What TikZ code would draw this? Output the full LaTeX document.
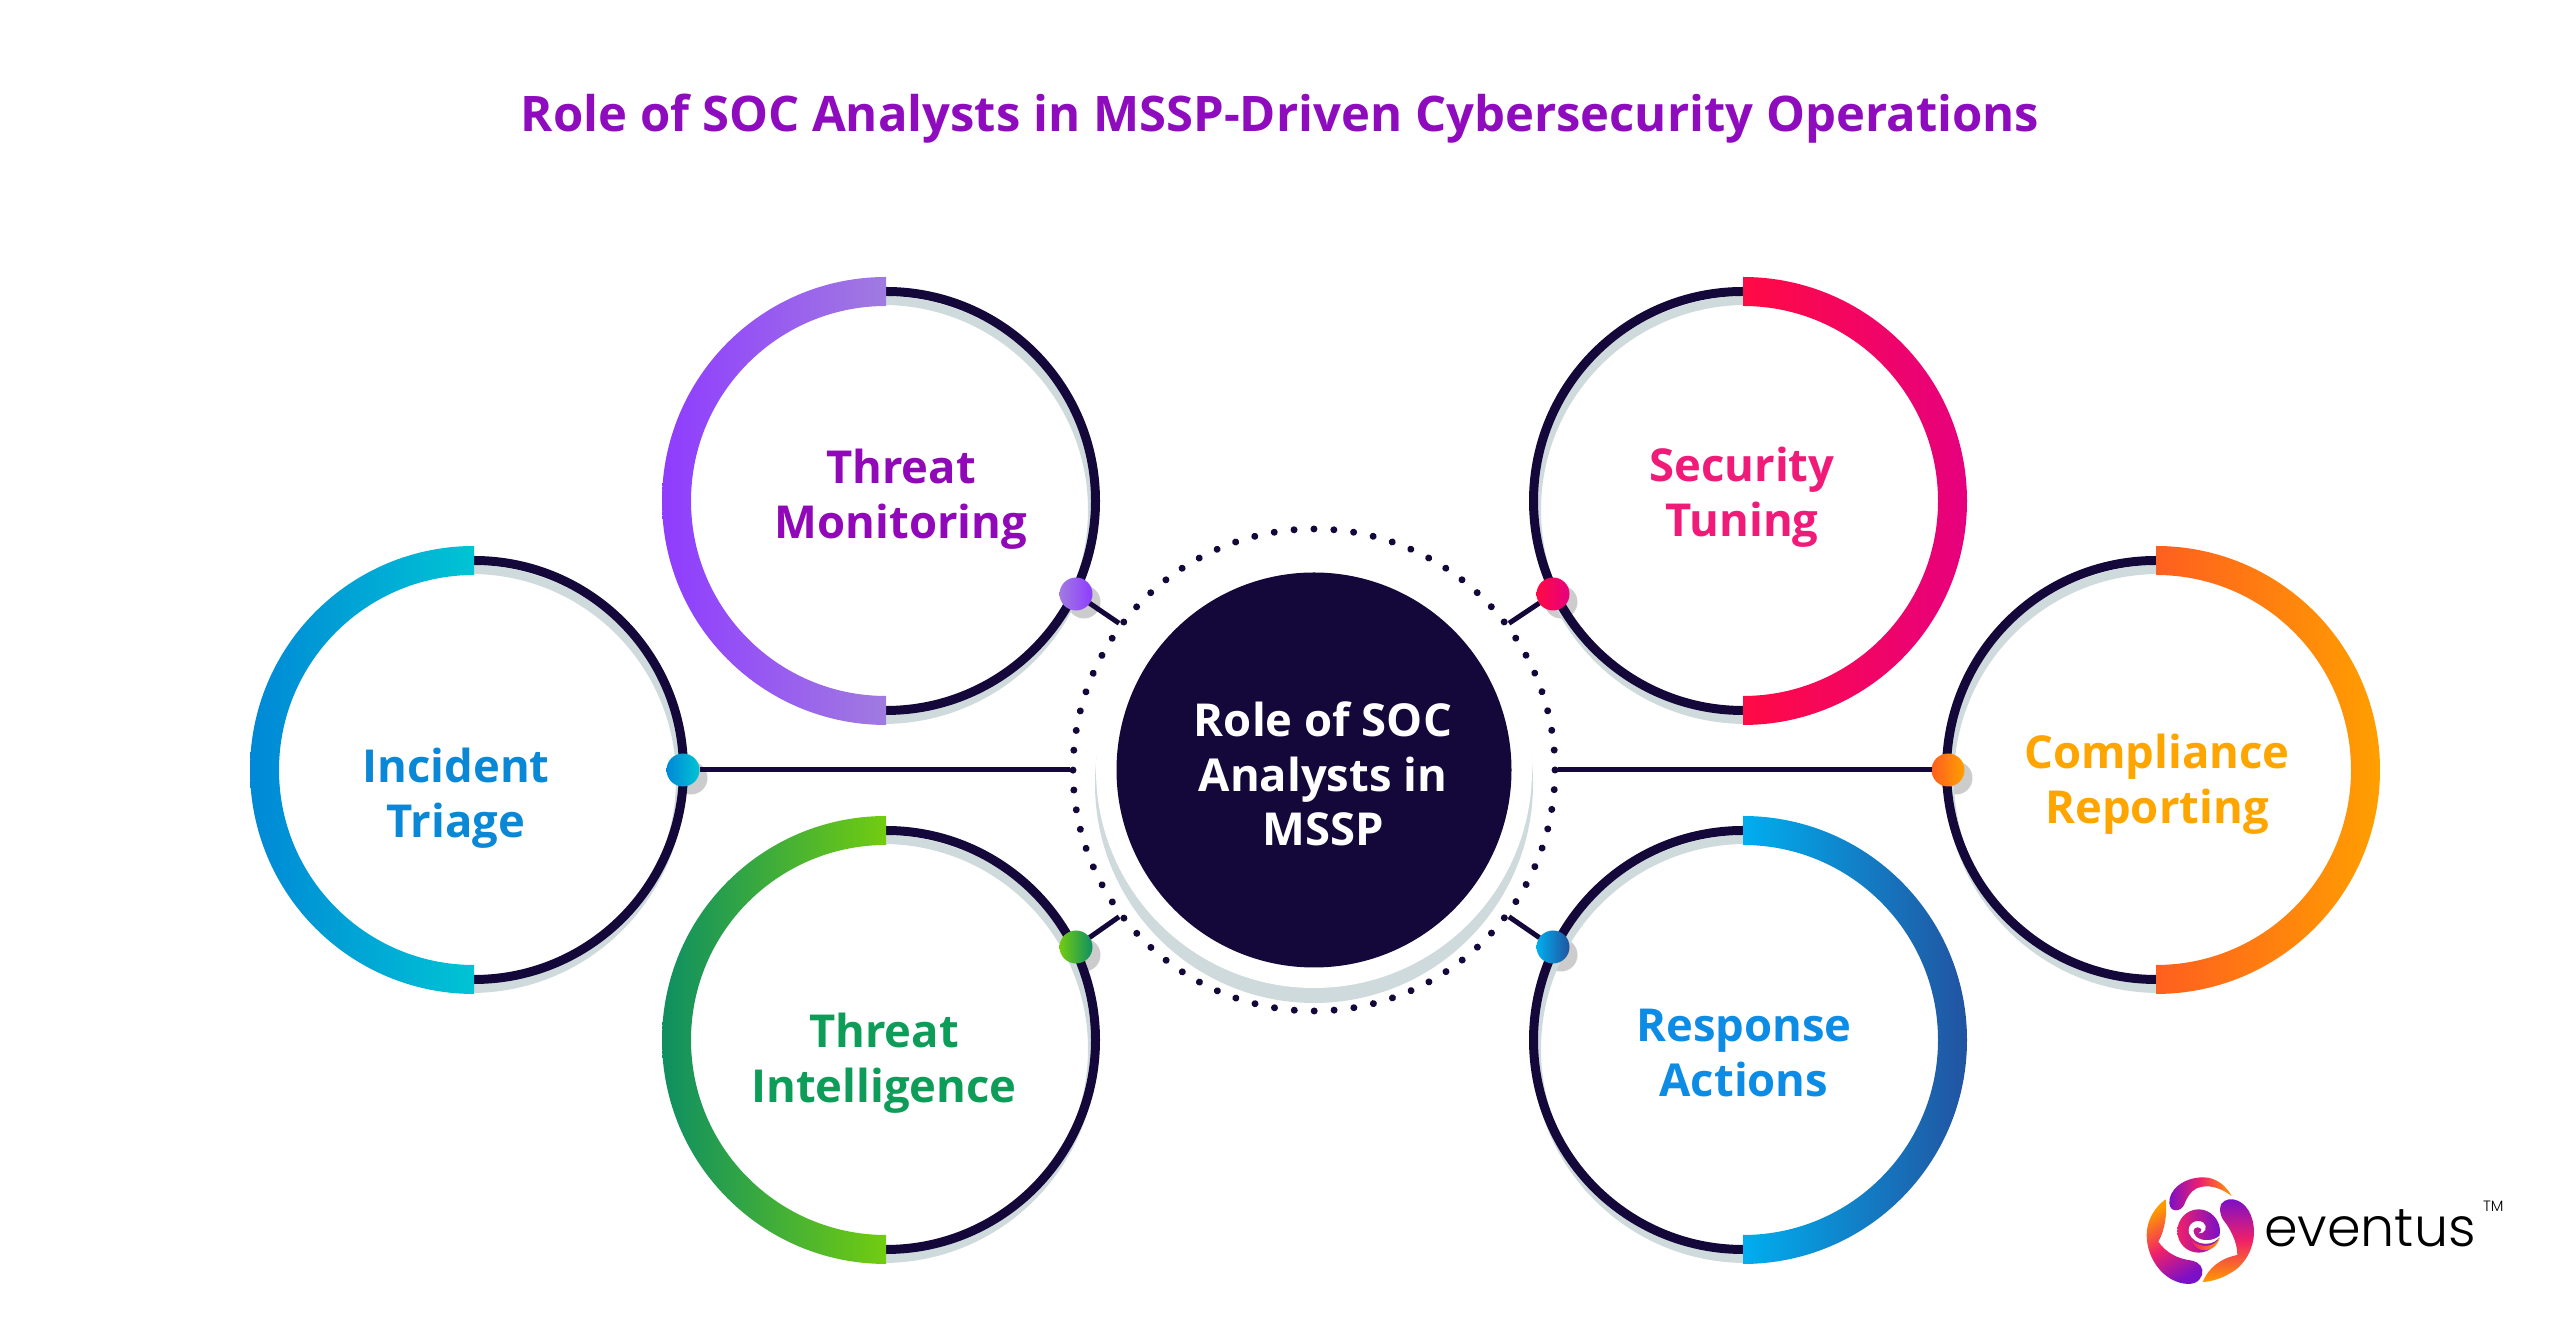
\documentclass[tikz,border=0pt]{standalone}
\usepackage{fontspec}
\setmainfont{Open Sans}
\newfontfamily\logofont{Poppins Light}
\usetikzlibrary{positioning}

\definecolor{hubdark}{HTML}{14083A}
\definecolor{shadegray}{HTML}{CFDADD}
\definecolor{dotgray}{HTML}{CCCCCC}
\definecolor{logopurple}{HTML}{7A10C8}
\definecolor{logopink}{HTML}{F0206A}
\definecolor{logoorange}{HTML}{FF9A00}
\definecolor{monA}{HTML}{8F3CFF}
\definecolor{monB}{HTML}{A07BE0}
\definecolor{secA}{HTML}{FF0A45}
\definecolor{secB}{HTML}{E6007E}
\definecolor{incA}{HTML}{0088D6}
\definecolor{incB}{HTML}{00C4D4}
\definecolor{comA}{HTML}{FF5F1F}
\definecolor{comB}{HTML}{FF9F00}
\definecolor{intA}{HTML}{0E8F62}
\definecolor{intB}{HTML}{72CC10}
\definecolor{resA}{HTML}{00AEEF}
\definecolor{resB}{HTML}{2253A0}
\definecolor{textmain}{HTML}{8E0CBE}
\definecolor{textmon}{HTML}{9108B8}
\definecolor{textsec}{HTML}{F01A78}
\definecolor{textinc}{HTML}{0A88D6}
\definecolor{textcom}{HTML}{FFA500}
\definecolor{textint}{HTML}{0E9D58}
\definecolor{textres}{HTML}{0D8CE6}

\newcommand{\socring}[7]{
    \coordinate (#1) at (#2,#3);
    \draw[line width=9pt, shadegray] ([xshift=#7pt,yshift=-9pt]#1) circle (209.5pt);
    \draw[line width=9pt, hubdark] (#1) circle (209.5pt);
    \path[left color=#5, right color=#6] ([shift={(#4:224pt)}]#1) arc[start angle=#4, delta angle=180, radius=224pt]
        -- ([shift={(#4+180:195pt)}]#1) arc[start angle=#4+180, delta angle=-180, radius=195pt] -- cycle;
}

\begin{document}
\begin{tikzpicture}[x=1pt, y=1pt,
    every node/.style={inner sep=0pt, outer sep=0pt},
    titlelabel/.style={font=\bfseries\fontsize{45.4}{54.5}\selectfont, text=#1, align=center},
    dotnode/.style={circle, minimum size=33pt},
    dotshade/.style={circle, minimum size=33pt, fill=dotgray},
    link/.style={line width=5pt, hubdark, shorten >=3pt}]

    \useasboundingbox (0,0) rectangle (2560,1340);

    \node[titlelabel=textmain, font=\bfseries\fontsize{49}{60}\selectfont] (title) at (1280,1221) {Role of SOC Analysts in MSSP-Driven Cybersecurity Operations};

    \node[dotshade] (shademon) at (1084,738) {};
    \node[dotshade] (shadesec) at (1561,738) {};
    \node[dotshade] (shadeinc) at (691,562) {};
    \node[dotshade] (shadecom) at (1956,562) {};
    \node[dotshade] (shadeint) at (1084,385) {};
    \node[dotshade] (shaderes) at (1561,385) {};

    \socring{ringmon}{886}{839}{90}{monA}{monB}{-3}
    \socring{ringsec}{1743}{839}{-90}{secA}{secB}{3}
    \socring{ringinc}{474}{570}{90}{incA}{incB}{-3}
    \socring{ringcom}{2156}{570}{-90}{comA}{comB}{3}
    \socring{ringint}{886}{300}{90}{intA}{intB}{-3}
    \socring{ringres}{1743}{300}{-90}{resA}{resB}{3}

    \node[circle, minimum size=438pt, fill=shadegray] (hubshade) at (1314,556) {};
    \node[circle, minimum size=436pt, fill=white] (hubgap) at (1314,570) {};
    \node[circle, minimum size=482pt, draw=hubdark, line width=7pt, line cap=round, dash pattern=on 0.01pt off 19.92pt] (hubring) at (1314,570) {};
    \node[circle, minimum size=395pt, fill=hubdark] (hub) at (1314,570) {};
    \node[titlelabel=white] (hublabel) at (1323,566) {Role of SOC\\Analysts in\\MSSP};

    \node[dotnode, left color=monB, right color=monA] (dotmon) at (1076,746) {};
    \node[dotnode, left color=secA, right color=secB] (dotsec) at (1553,746) {};
    \node[dotnode, left color=incA, right color=incB] (dotinc) at (683,570) {};
    \node[dotnode, left color=comA, right color=comB] (dotcom) at (1948,570) {};
    \node[dotnode, left color=intB, right color=intA] (dotint) at (1076,393) {};
    \node[dotnode, left color=resA, right color=resB] (dotres) at (1553,393) {};

    \draw[link] (dotmon) -- (hubring.143);
    \draw[link] (dotsec) -- (hubring.37);
    \draw[link] (dotinc) -- (hubring.180);
    \draw[link] (dotcom) -- (hubring.0);
    \draw[link] (dotint) -- (hubring.217);
    \draw[link] (dotres) -- (hubring.-37);

    \node[titlelabel=textmon] (labelmon) at (901,841) {Threat\\Monitoring};
    \node[titlelabel=textsec] (labelsec) at (1742,843) {Security\\Tuning};
    \node[titlelabel=textinc] (labelinc) at (456,542) {Incident\\Triage};
    \node[titlelabel=textcom] (labelcom) at (2157,556) {Compliance\\Reporting};
    \node[titlelabel=textint] (labelint) at (884,277) {Threat\\Intelligence};
    \node[titlelabel=textres] (labelres) at (1744,287) {Response\\Actions};

    \begin{scope}[shift={(2140,170)}, x=0.3333pt, y=-0.3333pt]
        \path[top color=logoorange, bottom color=logopurple, middle color=logopink, shading angle=30] (77,88) .. controls (45,110) and (20,150) .. (20,195) .. controls (20,270) and (75,340) .. (145,342) .. controls (175,342) and (190,320) .. (187,300) .. controls (183,280) and (165,272) .. (145,270) .. controls (110,265) and (75,245) .. (55,215) .. controls (75,180) and (82,130) .. (77,88) -- cycle;
        \path[left color=logopurple, right color=logoorange, middle color=logopink] (88,100) .. controls (85,60) and (130,22) .. (190,22) .. controls (230,22) and (260,50) .. (275,78) .. controls (245,55) and (205,40) .. (170,55) .. controls (150,65) and (140,85) .. (133,103) .. controls (125,125) and (90,130) .. (88,100) -- cycle;
        \path[top color=logopurple, bottom color=logoorange, middle color=logopink] (240,115) .. controls (240,95) and (262,85) .. (280,88) .. controls (320,95) and (342,140) .. (342,185) .. controls (342,240) and (310,290) .. (270,310) .. controls (245,325) and (215,335) .. (188,336) .. controls (205,295) and (240,265) .. (292,255) .. controls (292,215) and (270,175) .. (250,150) .. controls (243,140) and (240,128) .. (240,115) -- cycle;
        \path[left color=logopink, right color=logopurple] (240,183) .. controls (240,220) and (210,248) .. (176,248) .. controls (140,248) and (112,220) .. (112,183) .. controls (112,148) and (140,118) .. (176,118) .. controls (210,118) and (240,148) .. (240,183) -- cycle;
        \fill[white] (147,190) .. controls (140,160) and (170,145) .. (190,158) .. controls (205,170) and (195,192) .. (176,190) .. controls (190,182) and (185,172) .. (172,172) .. controls (160,172) and (155,185) .. (168,200) .. controls (185,215) and (220,215) .. (242,195) .. controls (225,232) and (165,230) .. (147,190) -- cycle;
        \path[left color=logopink, right color=logoorange] (155,210) .. controls (165,250) and (225,255) .. (240,202) .. controls (222,235) and (178,235) .. (155,210) -- cycle;
    \end{scope}

    \node[font=\logofont\fontsize{54}{60}\selectfont, text=black, anchor=base west] (logoname) at (2264,93) {eventus};
    \node[font=\logofont\fontsize{15}{18}\selectfont, text=black, anchor=base west] (logotm) at (2483,128) {TM};
\end{tikzpicture}
\end{document}
